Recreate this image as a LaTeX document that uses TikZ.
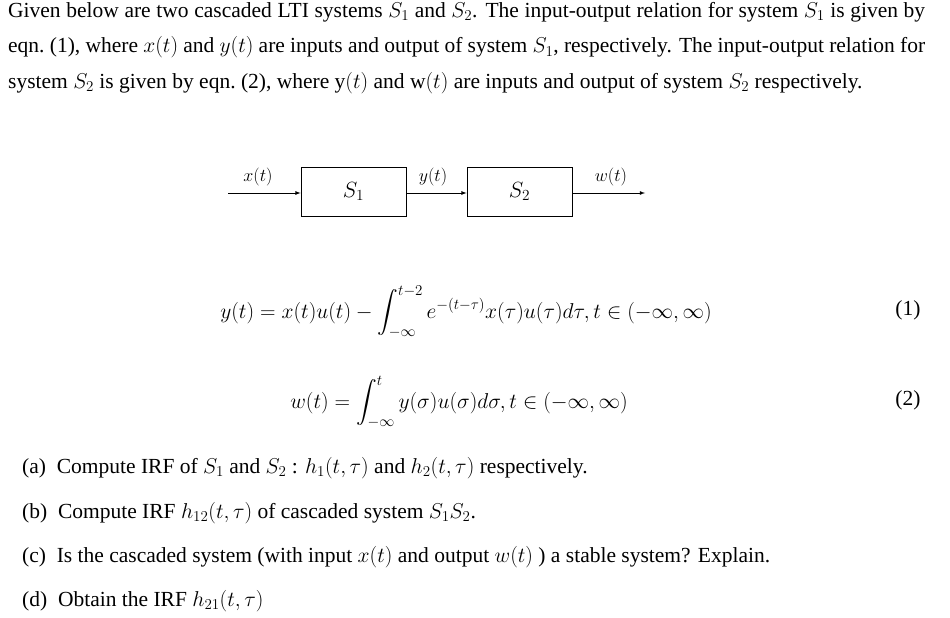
\RequirePackage{fix-cm}
\documentclass[tikz,border=0pt]{standalone}
\usepackage{amsmath}
\usepackage{fontspec}
\setmainfont{Liberation Serif}
\begin{document}
\begin{tikzpicture}[x=1pt,y=-1pt,
  blk/.style={draw,line width=0.8pt,minimum width=105pt,minimum height=49pt,font=\fontsize{22}{26}\selectfont},
  lbl/.style={font=\fontsize{18}{20}\selectfont},
  sig/.style={-latex,line width=0.8pt},
  txt/.style={font=\fontsize{21.5}{26}\selectfont,inner sep=0pt}]
\useasboundingbox (0,0) rectangle (950,618);
\node[anchor=north west,inner sep=0pt,text width=917pt,align=justify,font=\fontsize{21.5}{35.5}\selectfont] (para) at (8,2)
{Given below are two cascaded LTI systems $S_1$ and $S_2$. The input-output relation for system $S_1$ is given by eqn.\ (1), where $x(t)$ and $y(t)$ are inputs and output of system $S_1$, respectively. The input-output relation for system $S_2$ is given by eqn.\ (2), where y$(t)$ and w$(t)$ are inputs and output of system $S_2$ respectively.};
\coordinate (in) at (228,193);
\node[blk] (s1) at (353.5,191.5) {$S_1$};
\node[blk] (s2) at (519.5,191.5) {$S_2$};
\coordinate (out) at (645,193);
\draw[sig] (in) -- (in -| s1.west);
\draw[sig] (s1.east |- in) -- (s2.west |- in);
\draw[sig] (s2.east |- in) -- (out);
\node[lbl] (lx) at (258,177) {$x(t)$};
\node[lbl] (ly) at (433,177) {$y(t)$};
\node[lbl] (lw) at (611,177) {$w(t)$};
\node[txt] (eq1) at (466,312) {$\displaystyle y(t)=x(t)u(t)-\int_{-\infty}^{t-2} e^{-(t-\tau)}x(\tau)u(\tau)d\tau, t\in(-\infty,\infty)$};
\node[txt] (n1) at (908,310) {(1)};
\node[txt] (eq2) at (459,402) {$\displaystyle w(t)=\int_{-\infty}^{t} y(\sigma)u(\sigma)d\sigma, t\in(-\infty,\infty)$};
\node[txt] (n2) at (908,400) {(2)};
\node[txt,anchor=west] (a) at (22,468) {(a)\enspace Compute IRF of $S_1$ and $S_2$ : $h_1(t,\tau)$ and $h_2(t,\tau)$ respectively.};
\node[txt,anchor=west] (b) at (22,513) {(b)\enspace Compute IRF $h_{12}(t,\tau)$ of cascaded system $S_1S_2$.};
\node[txt,anchor=west] (c) at (22,557) {(c)\enspace Is the cascaded system (with input $x(t)$ and output $w(t)$ ) a stable system? Explain.};
\node[txt,anchor=west] (d) at (22,601) {(d)\enspace Obtain the IRF $h_{21}(t,\tau)$};
\end{tikzpicture}
\end{document}
